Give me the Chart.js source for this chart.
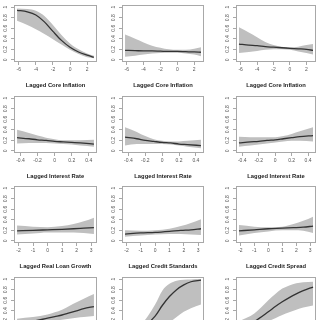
<!DOCTYPE html>
<html>
<head>
<meta charset="utf-8">
<script src="https://cdn.jsdelivr.net/npm/chart.js@4/dist/chart.umd.min.js"></script>
<style>
  html, body { margin: 0; padding: 0; background: #fff; }
  body { width: 320px; height: 320px; overflow: hidden; position: relative; }
  canvas { position: absolute; }
</style>
</head>
<body>
<script>
// x grids per row
var coreX = [-6.2, -5, -4, -3, -2, -1, 0, 1, 2, 2.8];
var rateX = [-0.44, -0.3, -0.2, -0.1, 0, 0.1, 0.2, 0.3, 0.46];
var loanX = [-2.1, -1, 0, 1, 1.8, 2.5, 3.2];
var lastX = [-2.1, -1, 0, 0.5, 1, 1.5, 2, 2.5, 3.2];

// tick labels
var coreTicks = [-6, -4, -2, 0, 2];
var rateTicks = [-0.4, -0.2, 0, 0.2, 0.4];
var loanTicks = [-2, -1, 0, 1, 2, 3];
var yTicks = [0, 0.2, 0.4, 0.6, 0.8, 1];
var yLabels = ['0', '0.2', '0.4', '0.6', '0.8', '1'];

// row 1: lagged core inflation
var core1Mean  = [0.94, 0.91, 0.85, 0.72, 0.54, 0.37, 0.24, 0.15, 0.09, 0.05];
var core1Upper = [0.975, 0.965, 0.93, 0.83, 0.66, 0.47, 0.31, 0.20, 0.12, 0.08];
var core1Lower = [0.74, 0.66, 0.58, 0.49, 0.39, 0.29, 0.19, 0.11, 0.05, 0.03];
var core2Mean  = [0.18, 0.175, 0.17, 0.17, 0.165, 0.16, 0.16, 0.155, 0.15, 0.145];
var core2Upper = [0.48, 0.40, 0.33, 0.27, 0.23, 0.20, 0.19, 0.19, 0.21, 0.24];
var core2Lower = [0.06, 0.08, 0.10, 0.12, 0.13, 0.135, 0.135, 0.12, 0.10, 0.07];
var core3Mean  = [0.30, 0.28, 0.27, 0.25, 0.24, 0.23, 0.22, 0.21, 0.20, 0.18];
var core3Upper = [0.62, 0.52, 0.43, 0.34, 0.28, 0.25, 0.24, 0.25, 0.28, 0.30];
var core3Lower = [0.13, 0.15, 0.17, 0.19, 0.20, 0.20, 0.19, 0.16, 0.13, 0.10];

// row 2: lagged interest rate
var rate1Mean  = [0.25, 0.23, 0.21, 0.20, 0.18, 0.17, 0.16, 0.15, 0.13];
var rate1Upper = [0.40, 0.34, 0.29, 0.25, 0.22, 0.20, 0.20, 0.20, 0.21];
var rate1Lower = [0.14, 0.15, 0.15, 0.15, 0.14, 0.13, 0.12, 0.10, 0.08];
var rate2Mean  = [0.26, 0.23, 0.20, 0.18, 0.16, 0.15, 0.13, 0.12, 0.10];
var rate2Upper = [0.45, 0.36, 0.28, 0.22, 0.19, 0.18, 0.18, 0.19, 0.21];
var rate2Lower = [0.10, 0.13, 0.13, 0.13, 0.13, 0.12, 0.10, 0.08, 0.05];
var rate3Mean  = [0.15, 0.17, 0.18, 0.20, 0.21, 0.23, 0.25, 0.27, 0.29];
var rate3Upper = [0.27, 0.26, 0.26, 0.26, 0.26, 0.28, 0.32, 0.37, 0.45];
var rate3Lower = [0.08, 0.10, 0.12, 0.14, 0.16, 0.18, 0.19, 0.19, 0.18];

// row 3: loan growth, credit standards, credit spread
var loanMean    = [0.19, 0.20, 0.21, 0.22, 0.23, 0.24, 0.25];
var loanUpper   = [0.29, 0.27, 0.26, 0.28, 0.32, 0.37, 0.44];
var loanLower   = [0.12, 0.14, 0.16, 0.16, 0.16, 0.15, 0.13];
var stdMean     = [0.13, 0.15, 0.16, 0.18, 0.20, 0.21, 0.23];
var stdUpper    = [0.20, 0.19, 0.20, 0.23, 0.28, 0.34, 0.41];
var stdLower    = [0.08, 0.10, 0.12, 0.13, 0.13, 0.12, 0.11];
var spreadMean  = [0.19, 0.21, 0.23, 0.24, 0.25, 0.26, 0.28];
var spreadUpper = [0.30, 0.27, 0.26, 0.27, 0.32, 0.38, 0.46];
var spreadLower = [0.10, 0.15, 0.18, 0.20, 0.20, 0.19, 0.15];

// row 4 (cut off at the bottom)
var last1Mean  = [0.15, 0.20, 0.26, 0.29, 0.32, 0.36, 0.40, 0.44, 0.48];
var last1Upper = [0.25, 0.28, 0.33, 0.37, 0.42, 0.49, 0.56, 0.63, 0.72];
var last1Lower = [0.07, 0.13, 0.19, 0.21, 0.23, 0.25, 0.27, 0.28, 0.30];
var last2Mean  = [0.02, 0.07, 0.30, 0.50, 0.67, 0.80, 0.89, 0.95, 0.98];
var last2Upper = [0.05, 0.14, 0.52, 0.78, 0.91, 0.97, 0.99, 0.995, 1.0];
var last2Lower = [0.00, 0.01, 0.05, 0.10, 0.18, 0.28, 0.38, 0.45, 0.52];
var last3Mean  = [0.10, 0.20, 0.38, 0.48, 0.57, 0.65, 0.72, 0.78, 0.85];
var last3Upper = [0.20, 0.35, 0.60, 0.72, 0.82, 0.88, 0.92, 0.94, 0.95];
var last3Lower = [0.04, 0.10, 0.20, 0.26, 0.32, 0.37, 0.42, 0.46, 0.50];

var panels = [
    { row: 0, col: 0, x: coreX, mean: core1Mean, upper: core1Upper, lower: core1Lower, ticks: coreTicks, title: 'Lagged Core Inflation' },
    { row: 0, col: 1, x: coreX, mean: core2Mean, upper: core2Upper, lower: core2Lower, ticks: coreTicks, title: 'Lagged Core Inflation' },
    { row: 0, col: 2, x: coreX, mean: core3Mean, upper: core3Upper, lower: core3Lower, ticks: coreTicks, title: 'Lagged Core Inflation' },
    { row: 1, col: 0, x: rateX, mean: rate1Mean, upper: rate1Upper, lower: rate1Lower, ticks: rateTicks, title: 'Lagged Interest Rate' },
    { row: 1, col: 1, x: rateX, mean: rate2Mean, upper: rate2Upper, lower: rate2Lower, ticks: rateTicks, title: 'Lagged Interest Rate' },
    { row: 1, col: 2, x: rateX, mean: rate3Mean, upper: rate3Upper, lower: rate3Lower, ticks: rateTicks, title: 'Lagged Interest Rate' },
    { row: 2, col: 0, x: loanX, mean: loanMean, upper: loanUpper, lower: loanLower, ticks: loanTicks, title: 'Lagged Real Loan Growth' },
    { row: 2, col: 1, x: loanX, mean: stdMean, upper: stdUpper, lower: stdLower, ticks: loanTicks, title: 'Lagged Credit Standards' },
    { row: 2, col: 2, x: loanX, mean: spreadMean, upper: spreadUpper, lower: spreadLower, ticks: loanTicks, title: 'Lagged Credit Spread' },
    { row: 3, col: 0, x: lastX, mean: last1Mean, upper: last1Upper, lower: last1Lower, ticks: loanTicks, title: '' },
    { row: 3, col: 1, x: lastX, mean: last2Mean, upper: last2Upper, lower: last2Lower, ticks: loanTicks, title: '' },
    { row: 3, col: 2, x: lastX, mean: last3Mean, upper: last3Upper, lower: last3Lower, ticks: loanTicks, title: '' }
];

// plot box geometry (R-style layout)
var boxLeft = [14, 122, 236];
var boxRight = [97, 204, 316];
var boxTop = [5, 96, 186, 277];
var boxHeight = 57;
var padLeft = 14, padTop = 2, padRight = 2, axisHeight = 28;

var boxColor = '#a8a8a8';
var tickColor = '#555';
var bandColor = '#bfbfbf';
var lineColor = '#333';

function tickLabel(v) {
    return String(Math.round(v * 10) / 10);
}

// box around the plot and rotated y labels like base R
var rAxes = {
    id: 'rAxes',
    afterDraw: function(chart) {
        var ctx = chart.ctx;
        var a = chart.chartArea;
        var y = chart.scales.y;
        ctx.save();
        ctx.strokeStyle = boxColor;
        ctx.lineWidth = 1;
        ctx.strokeRect(a.left + 0.5, a.top + 0.5, a.right - a.left - 1, a.bottom - a.top - 1);
        ctx.fillStyle = tickColor;
        ctx.font = '5px "Liberation Sans", Arial, sans-serif';
        ctx.textAlign = 'center';
        ctx.textBaseline = 'middle';
        yTicks.forEach(function(v, i) {
            var py = y.getPixelForValue(v);
            ctx.save();
            ctx.translate(a.left - 8, py);
            ctx.rotate(-Math.PI / 2);
            ctx.fillText(yLabels[i], 0, 0);
            ctx.restore();
        });
        ctx.restore();
    }
};

panels.forEach(function(p) {
    var w = boxRight[p.col] - boxLeft[p.col] + padLeft + padRight;
    var h = boxHeight + padTop + axisHeight;
    var canvas = document.createElement('canvas');
    canvas.width = w;
    canvas.height = h;
    canvas.style.left = (boxLeft[p.col] - padLeft) + 'px';
    canvas.style.top = (boxTop[p.row] - padTop) + 'px';
    canvas.style.width = w + 'px';
    canvas.style.height = h + 'px';
    document.body.appendChild(canvas);

    var xMin = Math.min.apply(null, p.x), xMax = Math.max.apply(null, p.x);
    var xPad = (xMax - xMin) * 0.04;
    var pts = function(arr) {
        return arr.map(function(v, i) { return { x: p.x[i], y: v }; });
    };
    var ticks = p.ticks;

    new Chart(canvas.getContext('2d'), {
        type: 'line',
        data: {
            datasets: [
                // first dataset is drawn on top
                {
                    label: 'mean',
                    data: pts(p.mean),
                    borderWidth: 1.3,
                    borderColor: lineColor,
                    fill: false,
                    pointRadius: 0,
                    cubicInterpolationMode: 'monotone'
                },
                {
                    label: 'upper',
                    data: pts(p.upper),
                    borderWidth: 0,
                    borderColor: 'rgba(0,0,0,0)',
                    backgroundColor: bandColor,
                    fill: '+1',
                    pointRadius: 0,
                    cubicInterpolationMode: 'monotone'
                },
                {
                    label: 'lower',
                    data: pts(p.lower),
                    borderWidth: 0,
                    borderColor: 'rgba(0,0,0,0)',
                    fill: false,
                    pointRadius: 0,
                    cubicInterpolationMode: 'monotone'
                }
            ]
        },
        options: {
            responsive: false,
            animation: false,
            devicePixelRatio: 1,
            layout: { padding: { left: 0, top: padTop, right: padRight, bottom: 0 } },
            plugins: { legend: { display: false }, tooltip: { enabled: false } },
            scales: {
                x: {
                    type: 'linear',
                    min: xMin - xPad,
                    max: xMax + xPad,
                    border: { display: false },
                    grid: { drawOnChartArea: false, drawTicks: true, tickLength: 3, color: boxColor },
                    afterBuildTicks: function(s) {
                        s.ticks = ticks.map(function(v) { return { value: v }; });
                    },
                    afterFit: function(s) { s.height = axisHeight; },
                    ticks: {
                        maxRotation: 0,
                        autoSkip: false,
                        padding: 2,
                        color: tickColor,
                        font: { family: '"Liberation Sans", Arial, sans-serif', size: 5 },
                        callback: function(v) { return tickLabel(v); }
                    },
                    title: {
                        display: p.title !== '',
                        text: p.title,
                        color: '#222',
                        padding: { top: 0, bottom: 1 },
                        font: { family: '"Liberation Sans", Arial, sans-serif', size: 5.8, weight: 'bold' }
                    }
                },
                y: {
                    type: 'linear',
                    min: -0.04,
                    max: 1.04,
                    border: { display: false },
                    grid: { drawOnChartArea: false, drawTicks: true, tickLength: 3, color: boxColor },
                    afterBuildTicks: function(s) {
                        s.ticks = yTicks.map(function(v) { return { value: v }; });
                    },
                    afterFit: function(s) { s.width = padLeft; },
                    ticks: { display: false }
                }
            }
        },
        plugins: [rAxes]
    });
});
</script>
</body>
</html>
